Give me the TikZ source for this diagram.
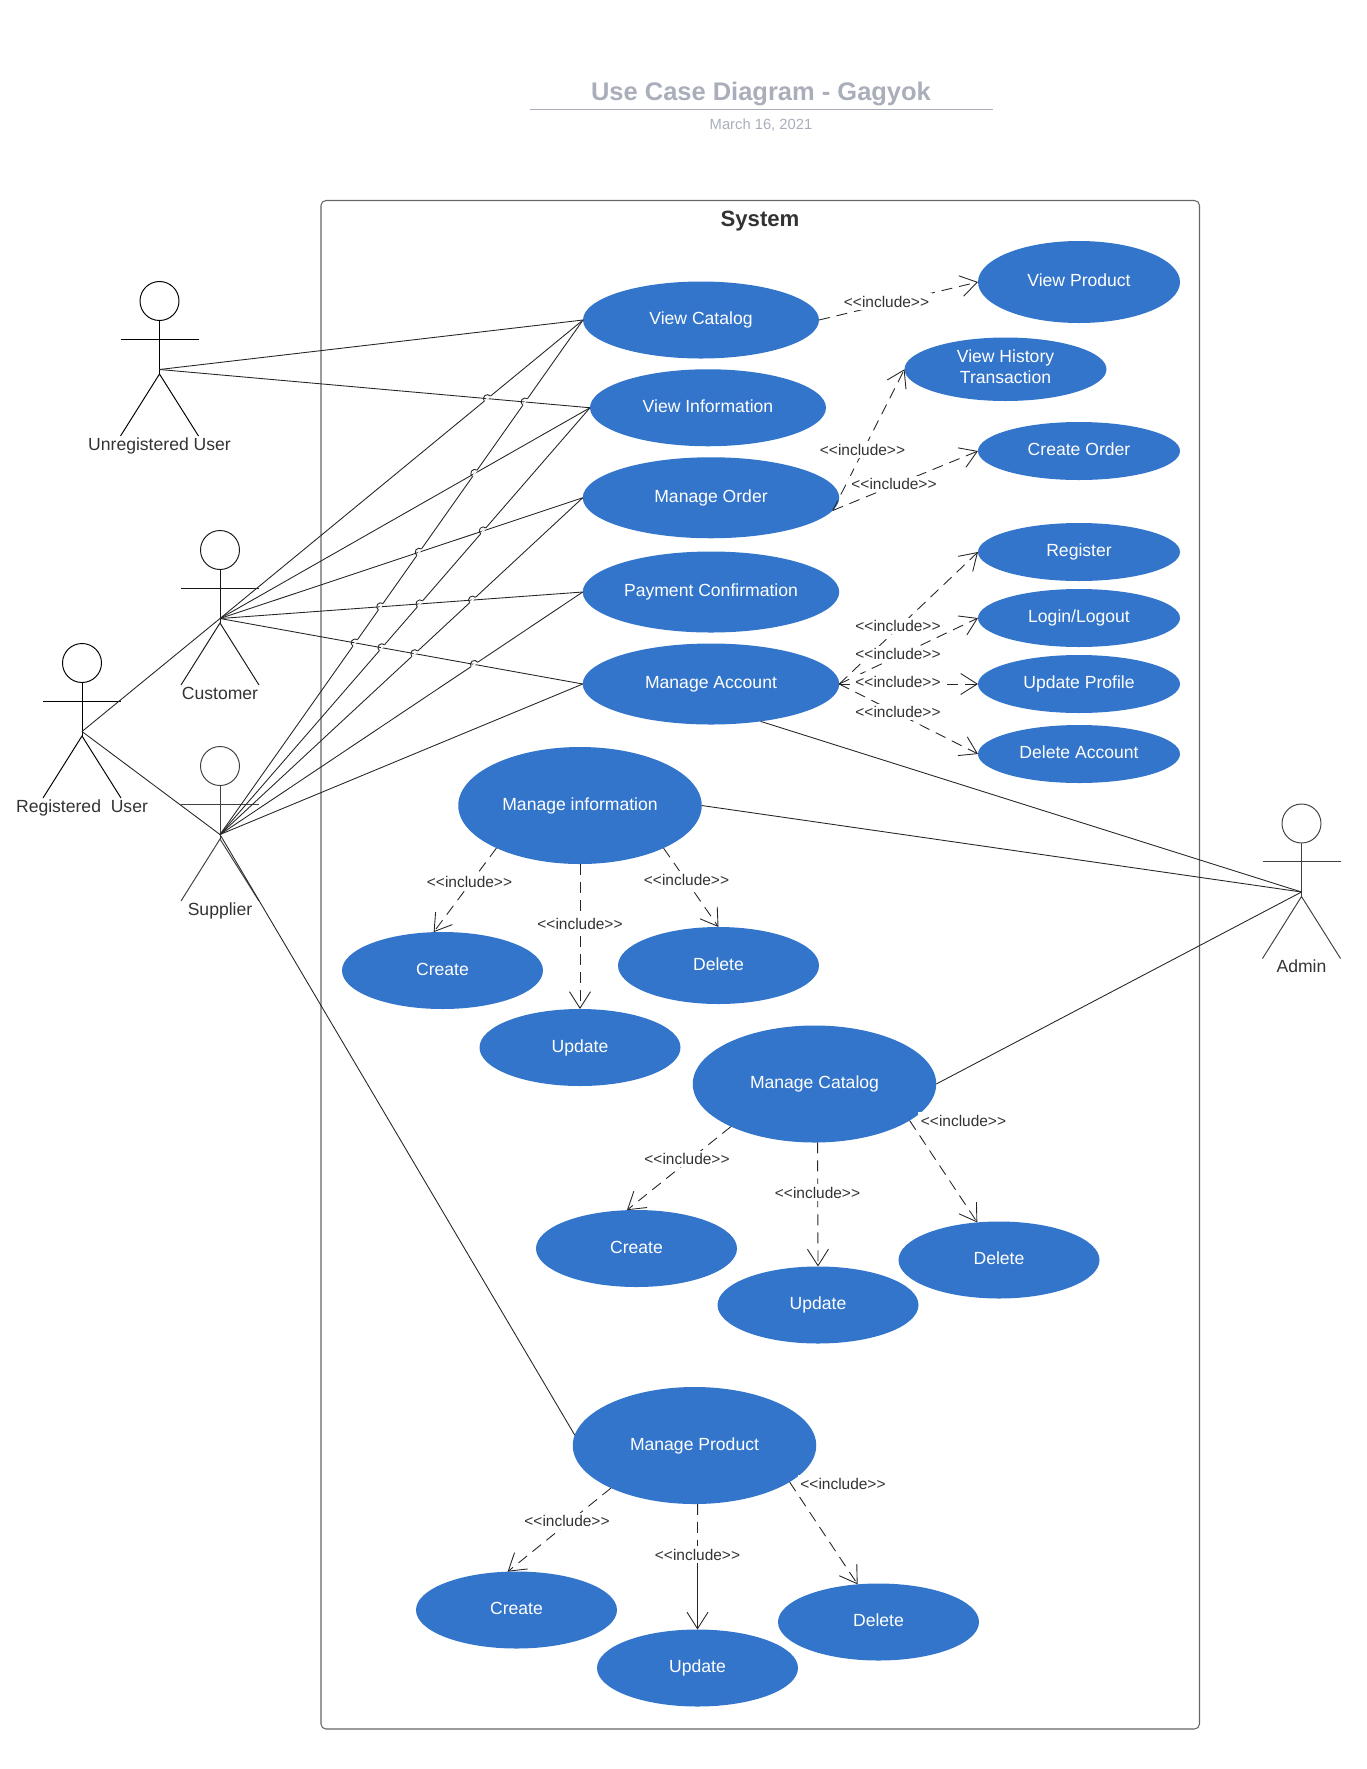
\documentclass[tikz,border=0pt]{standalone}
\usepackage{fontspec}
\setmainfont{Liberation Sans}
\usetikzlibrary{shapes.geometric,arrows.meta,intersections}

\definecolor{ucblue}{HTML}{3375CB}
\definecolor{titlegray}{HTML}{A9AEBA}
\definecolor{inkgray}{HTML}{333333}

\tikzset{
	usecase/.style={ellipse,fill=ucblue,text=white,inner sep=0pt,outer sep=0pt,
		font=\fontsize{10}{12.3}\selectfont,text height=.25cm,text depth=.07cm},
	viewcase/.style={usecase,minimum width=4.72cm,minimum height=1.54cm},
	ordercase/.style={usecase,minimum width=5.13cm,minimum height=1.62cm},
	managecase/.style={usecase,minimum width=4.87cm,minimum height=2.34cm},
	crudcase/.style={usecase,minimum width=4.02cm,minimum height=1.54cm},
	leafcase/.style={usecase,minimum width=4.04cm,minimum height=1.16cm},
	link/.style={draw=black!85,line width=.5pt},
	incl/.style={draw=black!85,line width=.5pt,dash pattern=on .22cm off .14cm,
		-{Straight Barb[length=.33cm,width=.42cm,line width=.5pt]}},
	incllabel/.style={fill=white,text=inkgray,inner sep=1.5pt,font=\fontsize{8.8}{10}\selectfont},
	actorlabel/.style={text=inkgray,inner sep=0pt,font=\fontsize{10}{12}\selectfont,text height=.25cm,text depth=0pt}
}

\begin{document}
\begin{tikzpicture}
	\useasboundingbox (0,0) rectangle (27.34,-35.38);

	% title
	\node [text=titlegray,font=\fontsize{14.5}{16}\bfseries\selectfont] (title) at (15.22,-1.87) {Use Case Diagram - Gagyok};
	\node [text=titlegray,font=\fontsize{8.4}{10}\selectfont] (date) at (15.22,-2.51) {March 16, 2021};
	\draw [titlegray,line width=1.1pt] (10.6,-2.19) -- (19.86,-2.19);

	% system box
	\draw [black!60,line width=.6pt,rounded corners=.1cm] (6.42,-4.01) rectangle (23.99,-34.58);
	\node [text=inkgray,font=\fontsize{12.6}{14}\bfseries\selectfont] (system) at (15.2,-4.43) {System};

	% actors
	\foreach \nm/\x/\y/\shade/\txt in {U/3.19/-6.02/100/Unregistered User, C/4.40/-11.00/90/Customer, R/1.64/-13.26/100/Registered\ \ User, S/4.40/-15.32/75/Supplier, A/26.03/-16.47/75/Admin} {
		\begin{scope}[shift={(\x,\y)},black!\shade,line width=.55pt]
			\node [circle,draw,minimum size=.78cm,inner sep=0pt] (\nm head) at (0,0) {};
			\coordinate (\nm) at (0,-1.37);
			\coordinate (\nm hip) at (0,-1.46);
			\draw (\nm head) -- (\nm hip);
			\draw (-.78,-.76) -- (.78,-.76);
			\draw (-.78,-2.7) -- (\nm hip) -- (.78,-2.7);
			\node [actorlabel] (\nm label) at (0,-2.86) {\txt};
		\end{scope}
	}

	% use cases
	\node [viewcase] (VC) at (14.02,-6.40) {View Catalog};
	\node [leafcase,minimum height=1.64cm] (VP) at (21.58,-5.64) {View Product};
	\node [viewcase] (VI) at (14.16,-8.155) {View Information};
	\node [leafcase,minimum height=1.27cm,align=center,text height=,text depth=.1cm] (VH) at (20.11,-7.385) {View History\\Transaction};
	\node [leafcase] (CO) at (21.58,-9.02) {Create Order};
	\node [ordercase] (MO) at (14.22,-9.955) {Manage Order};
	\node [ordercase] (PC) at (14.22,-11.84) {Payment Confirmation};
	\node [ordercase] (MA) at (14.22,-13.68) {Manage Account};
	\node [leafcase] (Reg) at (21.58,-11.04) {Register};
	\node [leafcase] (Log) at (21.58,-12.36) {Login/Logout};
	\node [leafcase] (Upd) at (21.58,-13.68) {Update Profile};
	\node [leafcase] (Del) at (21.58,-15.08) {Delete Account};

	\node [managecase] (MI) at (11.60,-16.11) {Manage information};
	\node [crudcase] (C1) at (8.85,-19.41) {Create};
	\node [crudcase] (D1) at (14.37,-19.31) {Delete};
	\node [crudcase] (U1) at (11.60,-20.95) {Update};

	\node [managecase] (MC) at (16.29,-21.68) {Manage Catalog};
	\node [crudcase] (C2) at (12.73,-24.97) {Create};
	\node [crudcase] (U2) at (16.36,-26.10) {Update};
	\node [crudcase] (D2) at (19.98,-25.20) {Delete};

	\node [managecase] (MP) at (13.89,-28.91) {Manage Product};
	\node [crudcase] (C3) at (10.33,-32.20) {Create};
	\node [crudcase] (U3) at (13.95,-33.36) {Update};
	\node [crudcase] (D3) at (17.57,-32.44) {Delete};

	% associations
	\foreach \t in {VC,VI} \draw [link,name path global=u\t] (U) -- (\t.west);
	\foreach \t in {VC,VI,MO,PC,MA} \draw [link,name path global=c\t] (C) -- (\t.west);
	\foreach \t in {VC,VI,MO,PC,MA} \draw [link,name path global=s\t] (S) -- (\t.west);
	\draw [link] (R) -- (C);
	\draw [link] (R) -- (S);
	\draw [link] (S) -- (MP.175);
	\draw [link] (MA.-37) -- (A);
	\draw [link] (MI.east) -- (A);
	\draw [link] (MC.east) -- (A);

	% line jumps
	\foreach \p/\q/\a in {uVI/cVC/39.4, uVI/sVC/54.8, cVI/sVC/54.8, cMO/sVC/54.8, cMO/sVI/49.1, cPC/sVC/54.8, cPC/sVI/49.1, cPC/sMO/42.9, cMA/sVC/54.8, cMA/sVI/49.1, cMA/sMO/42.9, cMA/sPC/33.7} {
		\path [name intersections={of={\p} and {\q},by=jmp}];
		\draw [white,line width=.8pt,shift={(jmp)},rotate=\a] (-.08,0) -- (.08,0);
		\draw [link,shift={(jmp)},rotate=\a] (-.08,0) arc (180:0:.08);
	}

	% includes
	\draw [incl] (VC.east) -- (VP.west);
	\draw [incl] (MO.-6) -- (VH.west);
	\draw [incl] (MO.-6) -- (CO.west);
	\draw [incl] (MA.east) -- (Reg.west);
	\draw [incl] (MA.east) -- (Log.west);
	\draw [incl] (MA.east) -- (Upd.west);
	\draw [incl] (MA.east) -- (Del.west);
	\draw [incl] (MI.207) -- (C1.103);
	\draw [incl] (MI.south) -- (U1.north);
	\draw [incl] (MI.-27) -- (D1.north);
	\draw [incl] (MC.207) -- (C2.104);
	\draw [incl] (MC.-87) -- (U2.north);
	\draw [incl] (MC.-21) -- (D2.120);
	\draw [incl] (MP.207) -- (C3.103);
	\draw [incl,-] (MP.-87) -- (U3.north);
	\draw [incl] (MP.-21) -- (D3.119);

	% include labels
	\foreach \nm/\x/\y in {a/17.73/-6.03, b/17.25/-8.99, c/17.88/-9.68, d/17.96/-12.52, e/17.96/-13.08, f/17.96/-13.64, g/17.96/-14.24, h/9.39/-17.63, i/11.60/-18.47, j/13.73/-17.59, k/13.74/-23.18, l/16.35/-23.85, m/19.27/-22.41, n/11.34/-30.42, o/13.95/-31.09, p/16.86/-29.67}
		\node [incllabel] (inc\nm) at (\x,\y) {<{}<include>{}>};
	\draw [incl,solid] (inco.south) -- (U3.north);
\end{tikzpicture}
\end{document}
